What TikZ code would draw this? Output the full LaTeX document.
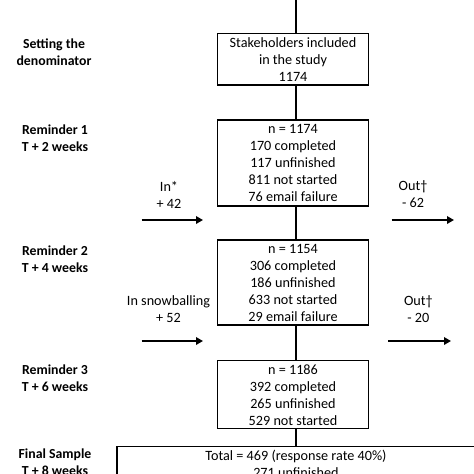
\documentclass[tikz,border=0pt]{standalone}
\usepackage{fontspec}
\setmainfont{Carlito}
\usetikzlibrary{arrows.meta}
\begin{document}
\begin{tikzpicture}[x=1pt,y=-1pt,
 box/.style={draw, line width=1.2pt, minimum width=151pt, inner sep=0pt, align=center, font=\fontsize{14.2}{17}\selectfont},
 lab/.style={align=center, inner sep=0pt, font=\bfseries\fontsize{13.8}{17}\selectfont},
 side/.style={align=center, inner sep=0pt, font=\fontsize{14.2}{17}\selectfont},
 conn/.style={line width=1.2pt},
 arr/.style={line width=1.8pt, -{Triangle[length=7pt,width=7.5pt]}}]
\useasboundingbox (0,0) rectangle (474,474);
% boxes
\node[box, minimum height=51.7pt] (b1) at (293,59.2) {Stakeholders included\\in the study\\1174};
\node[box, minimum height=86pt] (b2) at (293,163) {n = 1174\\170 completed\\117 unfinished\\811 not started\\76 email failure};
\node[box, minimum height=85pt] (b3) at (293,282.5) {n = 1154\\306 completed\\186 unfinished\\633 not started\\29 email failure};
\node[box, minimum height=68pt] (b4) at (293,394.7) {n = 1186\\392 completed\\265 unfinished\\529 not started};
\node[box, anchor=north, minimum width=358pt, minimum height=60pt, inner ysep=4pt, anchor=north] (b5) at (296,445.7) {Total = 469 (response rate 40\%)\\271 unfinished\\[20pt]};
% left labels
\node[lab] (l1) at (54,52) {Setting the\\denominator};
\node[lab] (l2) at (55,138.3) {Reminder 1\\T + 2 weeks};
\node[lab] (l3) at (55,258.8) {Reminder 2\\T + 4 weeks};
\node[lab] (l4) at (55,378.7) {Reminder 3\\T + 6 weeks};
\node[lab, anchor=north] (l5) at (55,449) {Final Sample\\T + 8 weeks};
% side labels
\node[side] (i1) at (169,194.5) {In*\\+ 42};
\node[side] (o1) at (413,194.5) {Out†\\- 62};
\node[side] (i2) at (168.5,309.5) {In snowballing\\+ 52};
\node[side] (o2) at (418.4,309.5) {Out†\\- 20};
% arrows
\coordinate (a1s) at (141.7,220); \coordinate (a1e) at (203,220);
\coordinate (a2s) at (391.7,220); \coordinate (a2e) at (454,220);
\coordinate (a3s) at (141.7,341); \coordinate (a3e) at (203,341);
\coordinate (a4s) at (388.3,341); \coordinate (a4e) at (451,341);
\draw[arr] (a1s) -- (a1e);
\draw[arr] (a2s) -- (a2e);
\draw[arr] (a3s) -- (a3e);
\draw[arr] (a4s) -- (a4e);
% connectors
\coordinate (top) at (296,0);
\draw[conn] (top) -- ([xshift=3pt]b1.north);
\draw[conn] ([xshift=3pt]b1.south) -- ([xshift=3pt]b2.north);
\draw[conn] ([xshift=3pt]b2.south) -- ([xshift=3pt]b3.north);
\draw[conn] ([xshift=3pt]b3.south) -- ([xshift=3pt]b4.north);
\draw[conn] ([xshift=3pt]b4.south) -- (b5.north);
\end{tikzpicture}
\end{document}
